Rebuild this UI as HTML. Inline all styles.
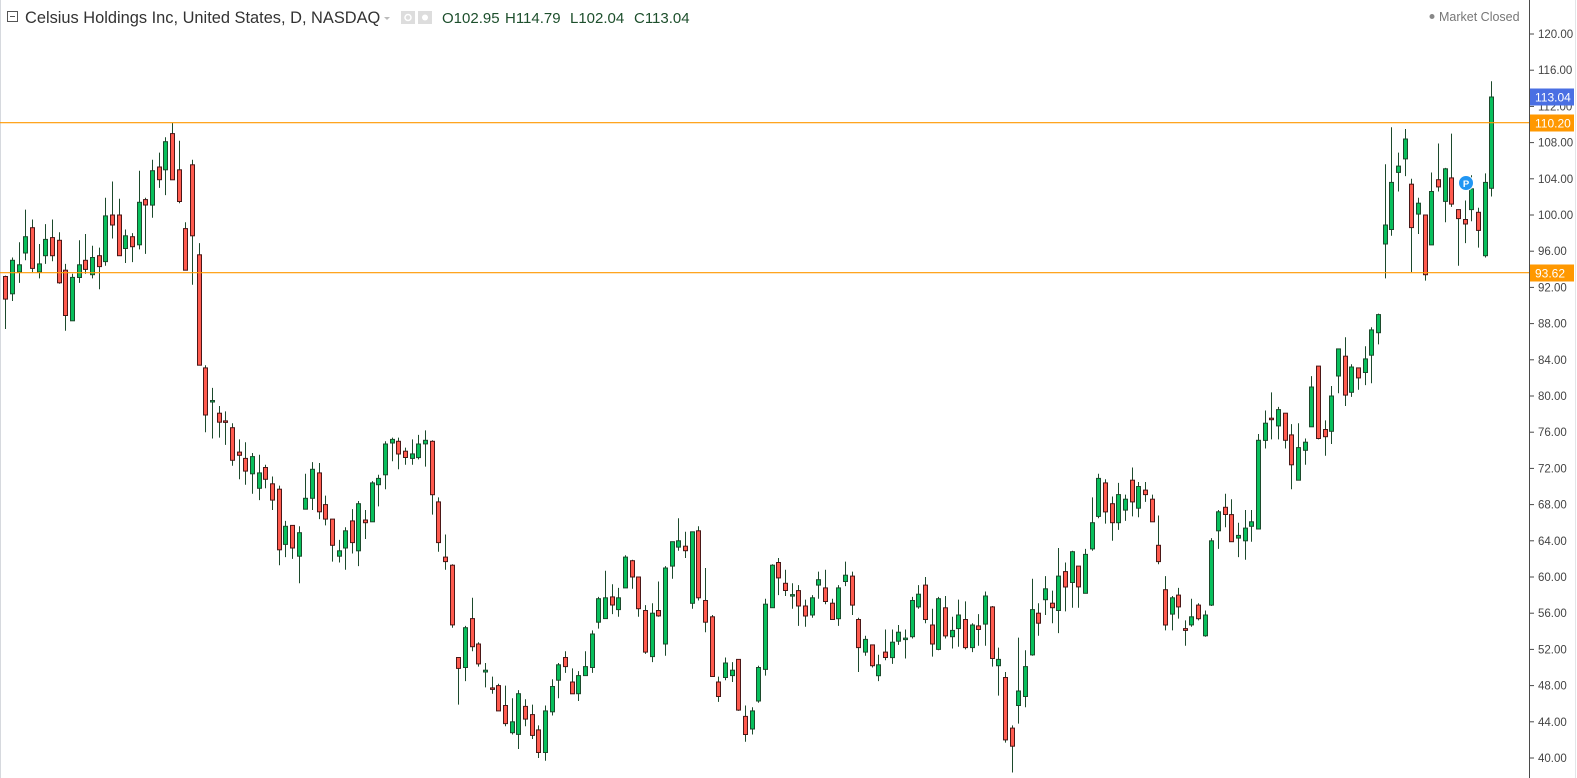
<!DOCTYPE html>
<html><head><meta charset="utf-8"><style>
html,body{margin:0;padding:0;background:#fff;width:1577px;height:778px;overflow:hidden;font-family:"Liberation Sans",sans-serif}
#c{position:absolute;left:0;top:0}
</style></head><body>
<svg id="c" width="1577" height="778" xmlns="http://www.w3.org/2000/svg">
<rect x="0" y="0" width="1577" height="778" fill="#fff"/>
<line x1="0.5" y1="0" x2="0.5" y2="778" stroke="#d6d9de" stroke-width="1"/>
<line x1="1575.5" y1="0" x2="1575.5" y2="778" stroke="#e3e5e8" stroke-width="1"/>
<g id="cand"></g>
<line x1="0" y1="122.7" x2="1530" y2="122.7" stroke="#ff9800" stroke-width="1.2"/>
<line x1="0" y1="272.7" x2="1530" y2="272.7" stroke="#ff9800" stroke-width="1.2"/>
<line x1="1529.5" y1="0" x2="1529.5" y2="778" stroke="#4a4a4a" stroke-width="1"/>
<g id="axis" font-size="11.5" fill="#444"></g>
<rect x="1530" y="88.5" width="44" height="17" fill="#4a6fe3"/>
<text x="1535" y="101.5" font-size="12" fill="#fff">113.04</text>
<rect x="1530" y="114.5" width="44" height="17" fill="#ff9800"/>
<text x="1535" y="127.5" font-size="12" fill="#fff">110.20</text>
<rect x="1530" y="264.5" width="44" height="17" fill="#ff9800"/>
<text x="1535" y="277.5" font-size="12" fill="#fff">93.62</text>
<circle cx="1466" cy="183" r="7.5" fill="#2196f3" stroke="#fff" stroke-width="1"/>
<text x="1466" y="187" font-size="9.5" font-weight="bold" fill="#fff" text-anchor="middle">P</text>
<rect x="7.5" y="11.5" width="10" height="10" fill="none" stroke="#555" stroke-width="1"/>
<line x1="10" y1="16.5" x2="15" y2="16.5" stroke="#555"/>
<text x="25" y="23" font-size="16.4" fill="#333">Celsius Holdings Inc, United States, D, NASDAQ</text>
<polygon points="384,17 390,17 387,20" fill="#bbb"/>
<rect x="401" y="11" width="14" height="13" fill="#ddd"/>
<circle cx="408" cy="17.5" r="3" fill="none" stroke="#fff" stroke-width="1.5"/>
<rect x="418" y="11" width="14" height="13" fill="#ddd"/>
<circle cx="425" cy="17.5" r="3" fill="#fff"/>
<text x="442" y="23" font-size="15" fill="#1d4f2c">O102.95</text>
<text x="505" y="23" font-size="15" fill="#1d4f2c">H114.79</text>
<text x="570" y="23" font-size="15" fill="#1d4f2c">L102.04</text>
<text x="634" y="23" font-size="15" fill="#1d4f2c">C113.04</text>
<circle cx="1432" cy="16.5" r="2.5" fill="#888"/>
<text x="1439" y="21" font-size="12.5" fill="#777">Market Closed</text>
</svg>
<script>
var D=[[93.2,93.3,87.4,90.7],[91.3,95.3,90.5,95.0],[93.7,97.0,92.5,94.5],[95.8,100.6,95.0,97.6],[98.6,99.5,93.7,94.1],[93.7,96.8,93.0,94.6],[95.5,99.0,94.6,97.3],[97.5,99.5,94.9,95.5],[97.2,98.1,92.4,92.5],[93.9,94.6,87.2,88.9],
[88.3,93.5,88.3,93.1],[93.1,97.2,92.5,94.5],[95.0,97.9,93.5,94.0],[93.4,96.6,93.0,95.3],[95.5,96.4,91.8,94.3],[94.85,101.9,94.4,99.9],[100.0,103.7,97.4,98.9],[100.0,101.8,95.5,95.5],[96.3,98.4,94.7,97.7],[97.6,98.0,94.8,96.5],
[96.7,104.9,96.2,101.4],[101.7,101.9,95.7,101.1],[101.1,106.1,99.7,104.9],[105.3,106.9,103.0,103.9],[105.0,108.6,102.2,108.1],[109.0,110.2,103.9,103.9],[105.0,108.2,101.3,101.5],[98.5,99.2,93.9,93.9],[105.55,106.1,92.3,97.7],[95.6,96.9,83.4,83.4],
[83.1,83.4,76.0,77.9],[79.4,80.9,75.3,79.5],[78.1,78.9,75.4,77.1],[77.25,78.3,74.6,77.15],[76.5,77.0,72.3,72.9],[73.8,75.2,70.8,73.45],[73.1,74.9,70.2,71.7],[71.4,73.7,69.2,73.3],[69.8,73.5,68.5,71.5],[72.1,72.4,69.8,70.8],
[70.3,71.1,67.4,68.5],[69.7,70.1,61.3,63.0],[63.6,66.2,62.2,65.6],[65.7,65.7,62.0,63.2],[62.3,65.6,59.3,64.9],[67.5,71.4,67.5,68.7],[68.7,72.7,67.4,71.9],[71.5,72.6,66.4,67.2],[68.0,69.0,65.7,66.4],[66.4,66.4,61.7,63.5],
[62.3,64.1,61.6,62.9],[63.2,65.5,60.8,65.1],[66.2,67.5,62.6,63.8],[62.9,68.4,61.2,68.1],[66.3,67.4,64.2,66.0],[66.1,70.6,66.1,70.4],[70.2,71.3,67.8,70.9],[71.3,75.0,69.7,74.7],[74.8,75.4,72.8,75.2],[75.0,75.4,71.9,73.6],
[73.9,74.3,72.4,73.2],[73.1,75.2,72.4,73.6],[73.2,75.7,73.0,74.7],[74.7,76.2,72.2,75.1],[75.0,75.1,66.9,69.1],[68.3,68.8,62.8,63.8],[62.2,64.7,60.8,61.7],[61.3,61.4,54.4,54.7],[51.1,51.1,45.9,49.9],[50.0,54.6,48.5,54.4],
[55.4,57.7,51.8,52.3],[52.6,52.8,50.1,50.4],[49.5,50.5,47.8,49.7],[47.75,49.0,47.1,47.65],[48.0,48.2,45.2,45.2],[45.8,48.0,43.5,43.8],[42.8,46.6,42.6,44.0],[42.6,47.5,41.0,47.1],[45.7,46.5,43.5,44.3],[44.8,45.9,42.1,42.5],
[43.1,43.6,40.0,40.6],[40.6,45.8,39.7,45.2],[45.1,48.7,44.7,47.9],[48.6,50.5,46.6,50.3],[51.1,51.8,49.4,50.1],[48.4,49.9,47.1,47.1],[47.1,49.6,46.3,49.1],[49.1,51.8,49.1,50.1],[50.0,54.1,49.4,53.7],[55.0,57.8,54.3,57.6],
[55.4,60.7,55.4,57.7],[57.8,59.2,55.9,56.9],[56.4,58.8,55.6,57.7],[58.8,62.4,58.8,62.2],[61.8,61.9,58.7,60.0],[60.0,60.0,55.6,56.5],[56.3,56.9,51.5,51.7],[51.2,57.1,50.6,56.0],[56.3,59.5,55.6,55.7],[52.6,61.2,51.3,61.0],
[61.2,63.9,59.8,63.9],[63.3,66.5,62.9,64.0],[63.4,65.0,62.1,62.9],[57.1,65.0,56.5,65.0],[65.1,65.6,57.4,57.7],[57.4,61.0,53.9,55.0],[55.6,55.8,49.0,49.0],[48.4,49.0,46.2,46.8],[48.9,51.1,48.6,50.5],[49.1,50.6,48.4,49.7],
[50.9,50.9,45.2,45.3],[44.6,45.8,41.8,42.6],[43.2,45.6,42.6,45.2],[46.3,50.2,46.1,50.0],[49.8,57.6,49.1,57.0],[56.6,61.4,56.6,61.3],[61.6,62.1,58.0,59.9],[59.3,60.8,57.9,58.5],[57.95,59.3,56.5,58.05],[58.5,59.1,54.6,56.8],
[56.8,57.5,54.5,55.7],[55.8,58.0,55.5,57.7],[59.1,60.6,57.6,59.7],[58.8,60.8,57.0,57.3],[57.1,57.6,55.3,55.3],[55.4,59.1,54.6,58.8],[59.5,61.7,59.0,60.2],[60.1,60.6,55.8,56.9],[55.3,55.5,49.5,52.2],[51.7,53.5,51.3,53.1],
[52.5,52.5,50.0,50.2],[49.1,51.4,48.5,50.3],[51.7,54.2,50.8,51.1],[51.1,54.2,50.4,52.8],[52.9,54.7,52.5,53.9],[53.15,54.2,51.0,53.25],[53.4,57.8,53.2,57.4],[56.7,59.1,56.5,58.1],[59.1,60.0,54.9,55.3],[54.7,56.5,51.2,52.6],
[52.0,57.8,51.9,57.6],[56.6,57.9,53.2,53.5],[53.4,55.6,52.1,54.1],[54.3,57.5,52.3,55.8],[55.3,57.3,52.0,52.2],[52.2,54.9,51.7,54.7],[54.6,55.9,52.4,54.2],[54.8,58.4,52.4,57.9],[56.7,56.8,50.1,51.0],[50.2,52.2,46.9,50.9],
[48.9,49.5,41.7,42.0],[43.3,43.6,38.4,41.3],[45.8,53.3,43.8,47.4],[46.8,51.9,45.6,50.1],[51.4,59.8,51.3,56.4],[56.0,57.1,53.5,54.9],[57.5,60.1,55.8,58.7],[57.1,58.5,54.9,56.6],[56.3,63.2,53.8,60.1],[60.6,61.6,56.2,58.9],
[59.4,62.9,56.6,62.8],[61.2,61.2,56.6,58.9],[58.2,63.1,58.2,62.5],[63.1,68.8,62.9,66.0],[66.7,71.4,66.5,70.9],[70.4,70.8,65.9,67.2],[68.1,68.9,64.0,66.0],[66.0,70.4,65.2,69.1],[67.4,69.1,66.2,68.6],[70.7,72.1,66.7,68.3],
[67.6,70.5,66.6,70.0],[69.6,70.5,68.3,69.1],[68.6,69.1,66.1,66.1],[63.5,66.8,61.4,61.7],[58.6,60.1,54.1,54.7],[55.9,57.9,54.1,57.7],[58.0,58.8,55.4,56.7],[54.3,55.2,52.4,54.1],[54.7,57.6,54.5,55.6],[56.9,57.1,55.2,55.4],
[53.5,56.3,53.4,55.8],[56.9,64.3,56.8,64.0],[65.1,67.4,63.1,67.2],[67.7,69.2,65.5,66.9],[66.9,68.6,63.9,63.9],[64.3,66.0,62.2,64.6],[64.0,67.4,61.9,65.4],[65.6,67.4,63.9,66.1],[65.3,75.8,65.3,75.1],[75.1,78.4,74.2,77.0],
[77.55,80.4,75.2,77.45],[76.7,78.8,75.2,78.5],[78.1,78.1,74.2,75.1],[75.7,76.9,69.7,72.4],[70.7,77.0,70.7,74.3],[74.0,75.3,72.4,74.9],[76.6,82.2,76.6,81.0],[83.3,83.3,75.2,75.3],[76.3,77.3,73.4,75.5],[76.1,81.1,74.7,80.0],
[82.2,85.2,80.3,85.2],[84.4,86.5,78.9,80.1],[80.4,83.5,79.9,83.2],[83.1,83.1,80.7,82.0],[82.6,85.5,81.2,84.1],[84.5,87.6,81.4,87.3],[87.0,89.1,85.7,89.0],[96.8,105.6,93.0,98.9],[98.4,109.7,97.7,103.6],[104.7,106.9,102.6,105.4],
[106.2,109.5,104.3,108.4],[103.4,104.0,93.7,98.6],[100.1,101.9,97.9,101.3],[100.0,100.0,92.75,93.4],[96.7,104.7,96.7,102.6],[103.9,107.9,102.6,103.1],[101.5,105.2,99.2,105.1],[104.1,109.0,100.9,101.2],[100.6,100.6,94.4,99.6],[99.5,101.6,96.9,99.0],
[100.6,104.4,99.3,102.9],[100.3,100.8,96.4,98.3],[95.5,104.6,95.3,103.6],[102.95,114.79,102.04,113.04]];
function Y(p){return 34+(120-p)*9.05;}
var s='';
for(var i=0;i<D.length;i++){
 var d=D[i],o=d[0],h=d[1],l=d[2],c=d[3];
 var x=Math.round(5.3+i*6.664)+0.5;
 var up=c>=o;
 s+='<line x1="'+x+'" y1="'+Y(h).toFixed(1)+'" x2="'+x+'" y2="'+Y(l).toFixed(1)+'" stroke="#1c4a2c" stroke-width="1"/>';
 var t=Y(Math.max(o,c)),b=Y(Math.min(o,c));if(b-t<1.5){b=t+1.5;}
 s+='<rect x="'+(x-2)+'" y="'+t.toFixed(1)+'" width="4" height="'+(b-t).toFixed(1)+'" fill="'+(up?'#08bf5c':'#ff5a4e')+'" stroke="'+(up?'#1c4a2c':'#4a1717')+'" stroke-width="1"/>';
}
document.getElementById('cand').innerHTML=s;
var a='';
for(var p=40;p<=120;p+=4){var y=Y(p);
 a+='<line x1="1530" y1="'+y.toFixed(1)+'" x2="1534" y2="'+y.toFixed(1)+'" stroke="#4a4a4a"/>';
 a+='<text x="1538" y="'+(y+4).toFixed(1)+'">'+p.toFixed(2)+'</text>';}
document.getElementById('axis').innerHTML=a;
</script>
</body></html>
